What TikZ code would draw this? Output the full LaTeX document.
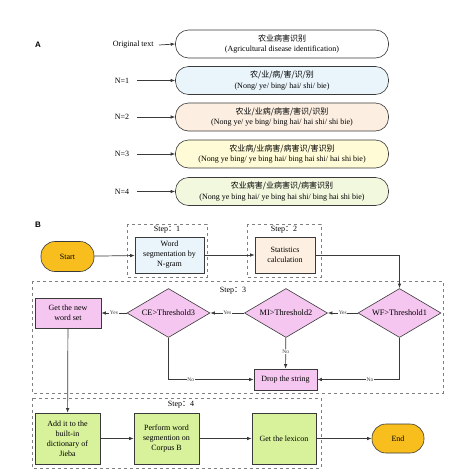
\documentclass[tikz,border=0pt]{standalone}
\usepackage{fontspec}
\setmainfont{Liberation Serif}
\setsansfont{Liberation Sans}
\newfontfamily\cjk{Noto Sans CJK SC}
\usetikzlibrary{arrows.meta,shapes.geometric,positioning}
\definecolor{ln}{HTML}{3A3A3A}
\definecolor{dsh}{HTML}{808080}
\definecolor{fblue}{HTML}{EAF5FB}
\definecolor{fpeach}{HTML}{FCEFE2}
\definecolor{fyellow}{HTML}{FFFBD6}
\definecolor{fgreen}{HTML}{F1F8DE}
\definecolor{gold}{HTML}{F7BE1E}
\definecolor{pink}{HTML}{F5C6F0}
\definecolor{green}{HTML}{D8F29C}
\definecolor{sblue}{HTML}{EAF4FB}
\definecolor{speach}{HTML}{FDF0E2}
\tikzset{
  x=1pt,y=-1pt,
  tx/.style={font=\fontsize{8}{9.5}\selectfont, text=black},
  abox/.style={draw=ln, line width=0.6pt, rounded corners=13pt, minimum width=213pt, minimum height=28pt, align=center, inner sep=0pt, font=\fontsize{8}{10.5}\selectfont},
  bbox/.style={draw=ln, line width=0.6pt, align=center, inner sep=1pt, font=\fontsize{8}{10}\selectfont},
  term/.style={draw=ln, line width=0.6pt, fill=gold, rounded corners=14pt, minimum width=53pt, minimum height=30pt, font=\fontsize{8}{9.5}\selectfont},
  dia/.style={draw=ln, line width=0.6pt, fill=pink, diamond, aspect=1.7, minimum width=83pt, minimum height=49pt, inner sep=0pt, font=\fontsize{8.3}{9.5}\selectfont},
  stepbox/.style={draw=dsh, dashed, line width=0.7pt},
  arr/.style={draw=ln, line width=0.7pt, -{Latex[length=4.5pt,width=3.5pt]}},
  lbl/.style={font=\fontsize{5.5}{6.5}\selectfont, fill=white, inner sep=0.5pt, text=ln},
  ttl/.style={font=\sffamily\bfseries\fontsize{8}{9}\selectfont},
}
\begin{document}
\begin{tikzpicture}
\useasboundingbox (0,0) rectangle (474,474);
% ---------- Part A ----------
\node[ttl] (A) at (38,45) {A};
\node[tx, anchor=east] (o0) at (157,45) {Original text};
\node[tx] (o1) at (122,80.5) {N=1};
\node[tx] (o2) at (122,117) {N=2};
\node[tx] (o3) at (122,154) {N=3};
\node[tx] (o4) at (122,191.5) {N=4};
\node[abox, fill=white] (b0) at (282,44) {{\cjk 农业病害识别}\\(Agricultural disease identification)};
\node[abox, fill=fblue] (b1) at (282,80.5) {{\cjk 农/业/病/害/识/别}\\(Nong/ ye/ bing/ hai/ shi/ bie)};
\node[abox, fill=fpeach] (b2) at (282,117) {{\cjk 农业/业病/病害/害识/识别}\\(Nong ye/ ye bing/ bing hai/ hai shi/ shi bie)};
\node[abox, fill=fyellow] (b3) at (282,154) {{\cjk 农业病/业病害/病害识/害识别}\\(Nong ye bing/ ye bing hai/ bing hai shi/ hai shi bie)};
\node[abox, fill=fgreen] (b4) at (282,191.5) {{\cjk 农业病害/业病害识/病害识别}\\(Nong ye bing hai/ ye bing hai shi/ bing hai shi bie)};
\draw[arr] (o0.east)++(2,0) coordinate (c0) -- (b0.west);
\draw[arr] (137,80.5) coordinate (c1) -- (b1.west);
\draw[arr] (137,117) coordinate (c2) -- (b2.west);
\draw[arr] (137,154) coordinate (c3) -- (b3.west);
\draw[arr] (137,191.5) coordinate (c4) -- (b4.west);
% ---------- Part B ----------
\node[ttl] (B) at (38,225) {B};
% step boxes
\draw[stepbox] (127,224) rectangle (207,277);
\node[tx] (s1) at (167,230) {Step{\cjk ：}1};
\draw[stepbox] (247,224) rectangle (321,277);
\node[tx] (s2) at (284,230) {Step{\cjk ：}2};
\draw[stepbox] (32,281) rectangle (443,393);
\node[tx] (s3) at (233,291) {Step{\cjk ：}3};
\draw[stepbox] (32,398) rectangle (321,468);
\node[tx] (s4) at (181,405) {Step{\cjk ：}4};
% nodes
\node[term] (start) at (67.5,256.5) {Start};
\node[bbox, fill=sblue, minimum width=69pt, minimum height=36pt] (ws) at (169.5,255) {Word\\segmentation by\\N-gram};
\node[bbox, fill=speach, minimum width=60pt, minimum height=36pt] (sc) at (285,255) {Statistics\\calculation};
\node[dia] (wf) at (399.5,313) {WF>Threshold1};
\node[dia] (mi) at (286,313) {MI>Threshold2};
\node[dia] (ce) at (168.5,313) {CE>Threshold3};
\node[bbox, fill=pink, minimum width=66pt, minimum height=30pt] (gn) at (68,313) {Get the new\\word set};
\node[bbox, fill=pink, minimum width=63pt, minimum height=21pt] (drop) at (285.5,379.5) {Drop the string};
\node[bbox, fill=green, minimum width=65pt, minimum height=51pt] (add) at (67.5,438.5) {Add it to the\\built-in\\dictionary of\\Jieba};
\node[bbox, fill=green, minimum width=65pt, minimum height=51pt] (pw) at (166.5,438.5) {Perform word\\segmention on\\Corpus B};
\node[bbox, fill=green, minimum width=64pt, minimum height=51pt] (gl) at (284,438.5) {Get the lexicon};
\node[term, minimum width=52pt, minimum height=29pt] (end) at (398,438.5) {End};
% connectors
\draw[arr] (start) -- (ws);
\draw[arr] (ws) -- (sc);
\draw[arr] (sc.east) -| (wf.north);
\draw[arr] (wf) -- node[lbl]{Yes} (mi);
\draw[arr] (mi) -- node[lbl]{Yes} (ce);
\draw[arr] (ce) -- node[lbl]{Yes} (gn);
\draw[arr] (mi) -- node[lbl, pos=0.45]{No} (drop);
\draw[arr] (ce.south) |- node[lbl, pos=0.63]{No} (drop.west);
\draw[arr] (wf.south) |- node[lbl, pos=0.68]{No} (drop.east);
\draw[arr] (gn) -- (add);
\draw[arr] (add) -- (pw);
\draw[arr] (pw) -- (gl);
\draw[arr] (gl) -- (end);
\end{tikzpicture}
\end{document}
